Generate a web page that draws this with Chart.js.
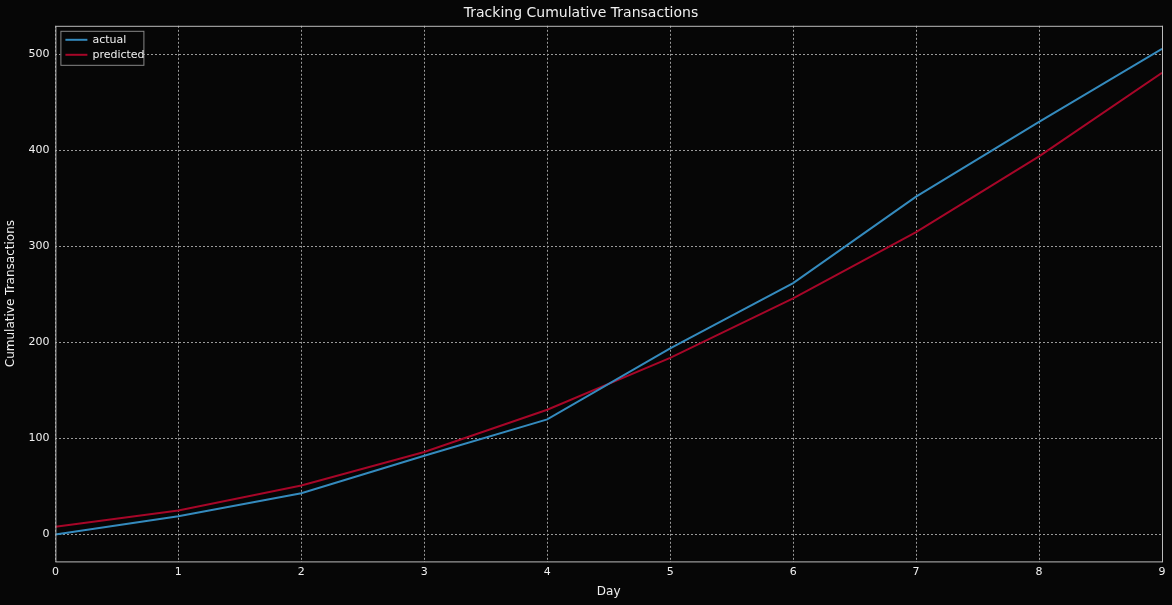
<!DOCTYPE html>
<html>
<head>
<meta charset="utf-8">
<script src="https://cdn.jsdelivr.net/npm/chart.js@4/dist/chart.umd.min.js"></script>
<style>
  html, body { margin: 0; padding: 0; background: #060606; }
  #wrap { width: 1172px; height: 605px; }
</style>
</head>
<body>
<div id="wrap"><canvas id="chart"></canvas></div>
<script>
// Data
const days = [0, 1, 2, 3, 4, 5, 6, 7, 8, 9];
const actual = [0, 19, 43, 82, 120, 194, 262, 352, 430, 506];
const predicted = [8, 25, 51, 86, 130, 184, 246, 315, 394, 481];
const yTicks = [0, 100, 200, 300, 400, 500];
const seriesNames = ['actual', 'predicted'];
const seriesColors = ['#348ABD', '#A60628'];

const toPoints = vals => days.map((d, i) => ({ x: d, y: vals[i] }));

// frame around the plot + legend box inside top-left
const framePlugin = {
    id: 'frame',
    afterDraw(chart) {
        const { ctx, chartArea: a } = chart;
        ctx.save();
        ctx.strokeStyle = '#bcbcbc';
        ctx.lineWidth = 1;
        ctx.strokeRect(a.left + 0.5, a.top + 0.5, a.right - a.left, a.bottom - a.top);

        const bx = a.left + 5, by = a.top + 5, bw = 83, bh = 34;
        ctx.fillStyle = '#060606';
        ctx.strokeStyle = '#888';
        ctx.fillRect(bx, by, bw, bh);
        ctx.strokeRect(bx + 0.5, by + 0.5, bw, bh);
        ctx.font = '11px "DejaVu Sans"';
        ctx.textBaseline = 'middle';
        seriesNames.forEach((name, i) => {
            const y = by + 9 + i * 15;
            ctx.strokeStyle = seriesColors[i];
            ctx.lineWidth = 2;
            ctx.beginPath();
            ctx.moveTo(bx + 5, y);
            ctx.lineTo(bx + 27, y);
            ctx.stroke();
            ctx.fillStyle = '#f0f0f0';
            ctx.fillText(name, bx + 32, y);
        });
        ctx.restore();
    }
};

new Chart(document.getElementById('chart'), {
    type: 'line',
    data: {
        datasets: [
            { label: seriesNames[0], data: toPoints(actual), borderColor: seriesColors[0], borderWidth: 2, pointRadius: 0, tension: 0 },
            { label: seriesNames[1], data: toPoints(predicted), borderColor: seriesColors[1], borderWidth: 2, pointRadius: 0, tension: 0 }
        ]
    },
    options: {
        responsive: true,
        maintainAspectRatio: false,
        animation: false,
        layout: { padding: { left: 0, right: 10, top: 0, bottom: 2 } },
        plugins: {
            legend: { display: false },
            tooltip: { enabled: false },
            title: {
                display: true,
                text: 'Tracking Cumulative Transactions',
                color: '#f0f0f0',
                font: { family: 'DejaVu Sans', size: 14, weight: 'normal' },
                padding: { top: 5, bottom: 4 }
            }
        },
        scales: {
            x: {
                type: 'linear',
                min: 0,
                max: 9,
                ticks: { stepSize: 1, color: '#f0f0f0', font: { family: 'DejaVu Sans', size: 11 }, padding: 4 },
                grid: { color: '#9a9a9a', tickLength: 0, tickBorderDash: [2, 2] },
                border: { dash: [2, 2], display: false },
                title: { display: true, text: 'Day', color: '#f0f0f0', font: { family: 'DejaVu Sans', size: 12 }, padding: { top: 2 } }
            },
            y: {
                min: -28,
                max: 530,
                afterBuildTicks(axis) { axis.ticks = yTicks.map(v => ({ value: v })); },
                ticks: { color: '#f0f0f0', font: { family: 'DejaVu Sans', size: 11 }, padding: 6 },
                grid: { color: '#9a9a9a', tickLength: 0 },
                border: { dash: [2, 2], display: false },
                title: { display: true, text: 'Cumulative Transactions', color: '#f0f0f0', font: { family: 'DejaVu Sans', size: 12 } }
            }
        }
    },
    plugins: [framePlugin]
});
</script>
</body>
</html>
